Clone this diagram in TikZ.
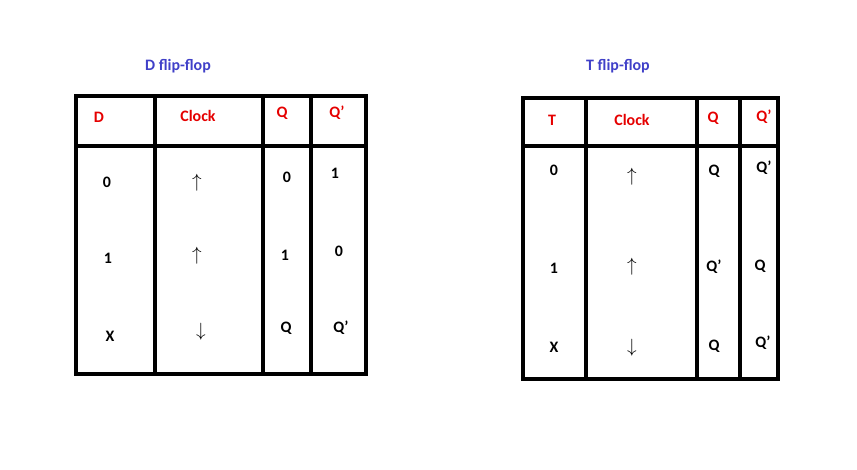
\documentclass[tikz,border=0pt]{standalone}
\usepackage{fontspec}
\setmainfont{Carlito}
\usetikzlibrary{positioning}
\definecolor{titleblue}{RGB}{64,64,200}
\tikzset{
  grid/.style={line width=3pt},
  title/.style={text=titleblue, font=\bfseries\large},
  head/.style={text=red!90!black, font=\bfseries\large},
  cell/.style={text=black, font=\bfseries\large},
  arr/.style={text=black, font=\Large}
}
\begin{document}
\begin{tikzpicture}[x=0.0264583cm, y=-0.0264583cm]
\useasboundingbox (0,0) rectangle (857,470);
% D flip-flop table
\node[title] (dtitle) at (178,66) {D flip-flop};
\draw[grid] (76,96) rectangle (366,374);
\draw[grid] (76,146) -- (368,146);
\foreach \x in {155,263,311} \draw[grid] (\x,96) -- (\x,376);
\node[head] (dD) at (99,117) {D};
\node[head] (dclk) at (198,116) {Clock};
\node[head] (dQ) at (282,113) {Q};
\node[head] (dQn) at (337,113) {Q’};
\node[cell] (d11) at (107,182) {0};
\node[arr] (d12) at (197,183) {$\big\uparrow$};
\node[cell] (d13) at (287,177) {0};
\node[cell] (d14) at (335,173) {1};
\node[cell] (d21) at (108,258) {1};
\node[arr] (d22) at (197,256) {$\big\uparrow$};
\node[cell] (d23) at (285,255) {1};
\node[cell] (d24) at (339,251) {0};
\node[cell] (d31) at (110,336) {X};
\node[arr] (d32) at (201,332) {$\big\downarrow$};
\node[cell] (d33) at (286,328) {Q};
\node[cell] (d34) at (341,328) {Q’};
% T flip-flop table
\node[title] (ttitle) at (618,66) {T flip-flop};
\draw[grid] (523,98) rectangle (778,379);
\draw[grid] (523,146) -- (778,146);
\foreach \x in {586,697,740} \draw[grid] (\x,98) -- (\x,381);
\node[head] (tT) at (552,120) {T};
\node[head] (tclk) at (632,120) {Clock};
\node[head] (tQ) at (713,118) {Q};
\node[head] (tQn) at (764,117) {Q’};
\node[cell] (t11) at (554,170) {0};
\node[arr] (t12) at (632,177) {$\big\uparrow$};
\node[cell] (t13) at (714,171) {Q};
\node[cell] (t14) at (764,168) {Q’};
\node[cell] (t21) at (554,268) {1};
\node[arr] (t22) at (632,267) {$\big\uparrow$};
\node[cell] (t23) at (714,267) {Q’};
\node[cell] (t24) at (760,266) {Q};
\node[cell] (t31) at (554,347) {X};
\node[arr] (t32) at (632,348) {$\big\downarrow$};
\node[cell] (t33) at (714,346) {Q};
\node[cell] (t34) at (763,343) {Q’};
\end{tikzpicture}
\end{document}
